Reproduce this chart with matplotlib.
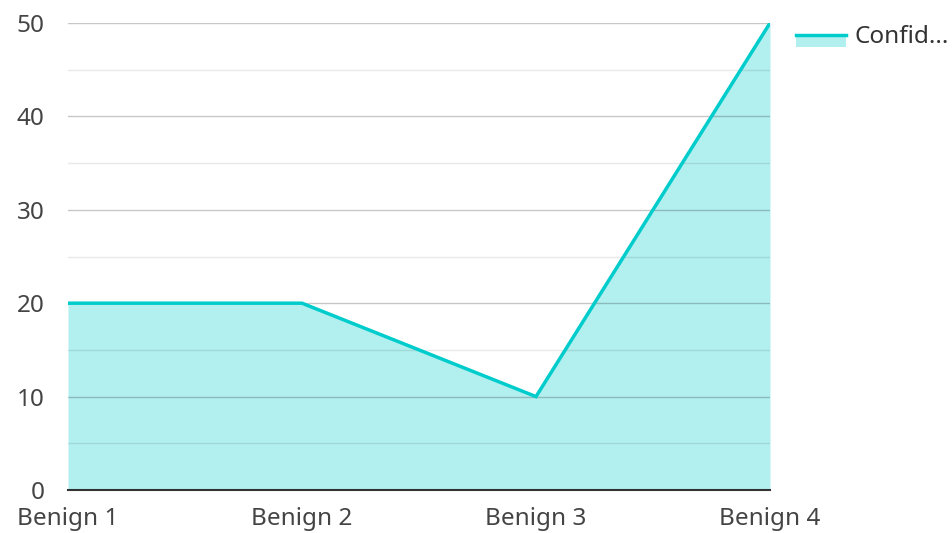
import matplotlib
matplotlib.use("Agg")
from matplotlib import pyplot as plt
from matplotlib.patches import Rectangle
from matplotlib.lines import Line2D

# data
categories = ["Benign 1", "Benign 2", "Benign 3", "Benign 4"]
confidence = [20, 20, 10, 50]
series_name = "Confid..."

line_color = "#00CCCC"
fill_color = "#B2EFEF"

plt.rcParams['font.family'] = ['Noto Sans', 'Open Sans', 'DejaVu Sans']

W, H = 952, 533
fig = plt.figure(figsize=(W / 100, H / 100), dpi=100)
ax = fig.add_axes([68 / W, 1 - 490 / H, (770 - 68) / W, (490 - 23) / H])

x = list(range(len(categories)))
ax.fill_between(x, 0, confidence, color=fill_color, linewidth=0, zorder=1)
ax.plot(x, confidence, color=line_color, linewidth=2.5, zorder=3, solid_joinstyle='miter')

ax.set_xlim(0, len(categories) - 1)
ax.set_ylim(0, 50)
ax.set_yticks(range(0, 51, 10))
ax.set_yticks(range(5, 50, 10), minor=True)
ax.set_xticks(x)
ax.set_xticklabels(categories)

# grid
ax.grid(True, which='major', axis='y', color='black', alpha=0.22, linewidth=1, zorder=2)
ax.grid(True, which='minor', axis='y', color='black', alpha=0.09, linewidth=1, zorder=2)
ax.set_axisbelow(False)

for s in ['top', 'right', 'left']:
    ax.spines[s].set_visible(False)
ax.spines['bottom'].set_color('#333333')
ax.spines['bottom'].set_linewidth(1.5)
ax.spines['bottom'].set_zorder(4)

ax.tick_params(axis='both', which='both', length=0, labelsize=17.5, colors='#444444')
ax.tick_params(axis='y', pad=17)
ax.tick_params(axis='x', pad=12)

# legend glyph
fig.patches.append(Rectangle((796 / W, 1 - 47 / H), 50 / W, 13 / H,
                             transform=fig.transFigure, facecolor=fill_color,
                             edgecolor='none'))
fig.lines.append(Line2D([796 / W, 846 / W], [1 - 35 / H, 1 - 35 / H],
                        transform=fig.transFigure, color=line_color, linewidth=2.5))
fig.text(855 / W, 1 - 37 / H, series_name, fontsize=17.5, color='#333333',
         va='center', ha='left')

fig.savefig("out.png", dpi=100)
